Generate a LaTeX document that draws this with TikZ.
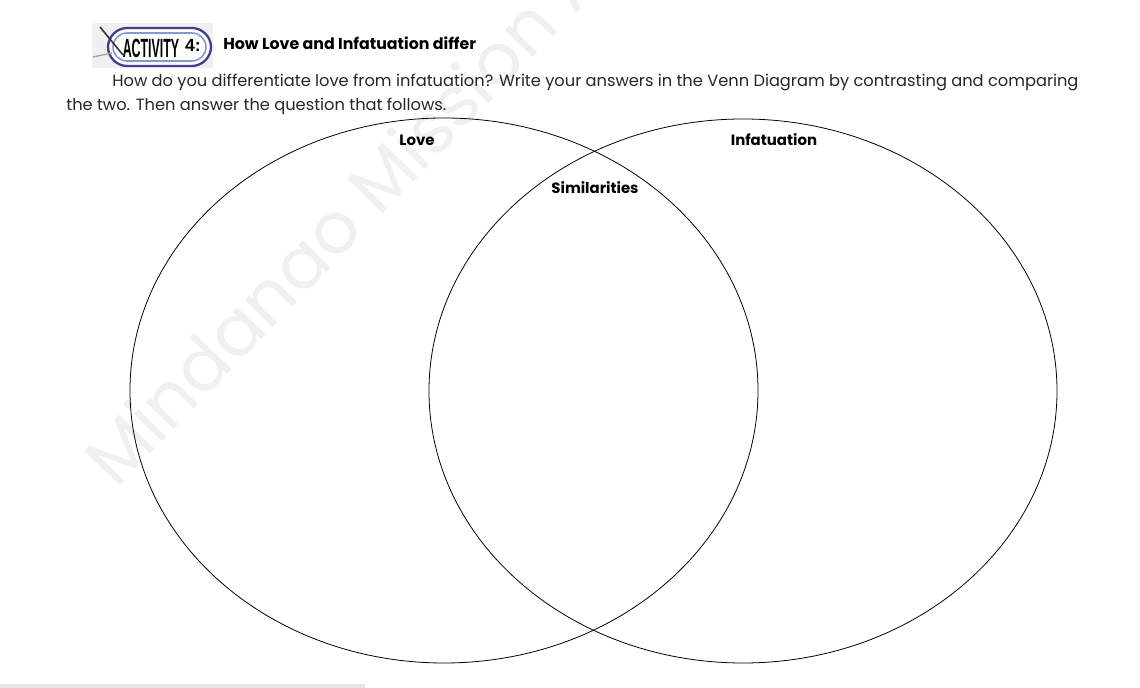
\documentclass[tikz,border=0pt]{standalone}
\usepackage{fontspec}
\setmainfont{Poppins}
\newfontfamily\badgefont{Liberation Sans}
\definecolor{markgray}{HTML}{F0F0F0}
\definecolor{badgeblue}{HTML}{3F3F8C}
\definecolor{badgering}{HTML}{7F9CCB}
\definecolor{badgeback}{HTML}{F0F0F2}
\tikzset{
  vennline/.style={draw=black,line width=0.45pt},
  bodytext/.style={anchor=base west,inner sep=0pt,font=\fontsize{9.25pt}{11pt}\selectfont,text=black!85},
  headtext/.style={anchor=base,inner sep=0pt,font=\fontsize{8.5pt}{10pt}\selectfont\bfseries},
}
\begin{document}
\begin{tikzpicture}[x=0.02cm,y=-0.02cm]
\clip (0,0) rectangle (1140,688);
\fill[white] (0,0) rectangle (1140,688);
% watermark
\node (mark) [anchor=base west,inner sep=0pt,rotate=46,text=markgray,font=\fontsize{40.5pt}{40.5pt}\selectfont] at (116,490) {Mindanao Mission A};
\fill[black!10] (0,684) rectangle (365,688);
% badge
\fill[badgeback] (92,23) rectangle (213,68);
\draw[badgeblue,line width=1.3pt,fill=white,rounded corners=11pt] (108,28) rectangle (211,66);
\draw[badgering,line width=0.9pt,rounded corners=8pt] (113,33) rectangle (206,61);
\draw[black!80,line width=0.9pt] (100,27) -- (123,55);
\draw[gray!70,line width=0.8pt] (93,57) -- (112,53);
\node (badge) [inner sep=0pt,font=\badgefont\bfseries\fontsize{15pt}{15pt}\selectfont,xscale=0.47] at (151,48) {ACTIVITY};
\node (badgenum) [inner sep=0pt,font=\badgefont\bfseries\fontsize{10pt}{10pt}\selectfont] at (193,45) {4:};
% text
\node (title) [bodytext,font=\fontsize{9pt}{11pt}\selectfont\bfseries,text=black] at (223,50) {How Love and Infatuation differ};
\node (line1) [bodytext] at (112,87) {How do you differentiate love from infatuation? Write your answers in the Venn Diagram by contrasting and comparing};
\node (line2) [bodytext] at (66,111) {the two. Then answer the question that follows.};
% venn
\draw[vennline] (444,390.5) ellipse (314 and 272.5);
\draw[vennline] (743,391) ellipse (314 and 272);
\node (love) [headtext] at (417,146) {Love};
\node (infat) [headtext] at (774,146) {Infatuation};
\node (simil) [headtext] at (595,194) {Similarities};
\end{tikzpicture}
\end{document}
